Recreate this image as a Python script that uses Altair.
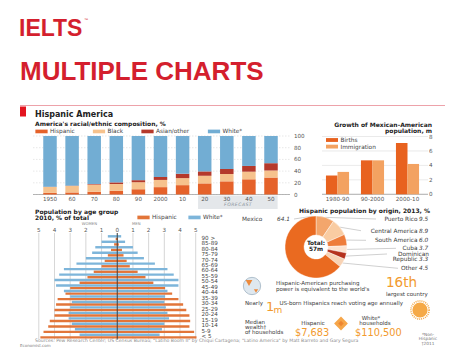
import altair as alt
import pandas as pd

# ============================ data ============================
YEARS = [1950, 1960, 1970, 1980, 1990, 2000, 2010, 2020, 2030, 2040, 2050]
YEAR_LABELS = ["1950", "60", "70", "80", "90", "2000", "10", "20", "30", "40", "50"]
COMP_GROUPS = ["Hispanic", "Black", "Asian/other", "White*"]
HISPANIC = [2.8, 3.5, 4.7, 6.4, 9.0, 12.6, 16.0, 19.0, 22.5, 26.0, 29.0]
BLACK = [10.0, 11.0, 12.2, 11.5, 12.0, 12.3, 12.0, 13.0, 12.5, 13.0, 12.0]
ASIAN_OTHER = [0.4, 0.6, 1.0, 2.8, 3.5, 5.0, 7.5, 7.5, 8.6, 9.8, 12.5]
WHITE = [86.8, 84.9, 82.1, 79.3, 75.5, 70.1, 64.5, 60.5, 56.4, 51.2, 46.5]
COMP_TICKS = [0, 20, 40, 60, 80, 100]
FORECAST_SPAN = [2020, 2050]

PERIODS = ["1980-90", "90-2000", "2000-10"]
GROWTH_KINDS = ["Births", "Immigration"]
BIRTHS = [2.6, 4.7, 7.1]
IMMIGRATION = [3.1, 4.7, 4.2]
GROWTH_TICKS = [0, 2, 4, 6, 8]

AGES = ["90 >", "85-89", "80-84", "75-79", "70-74", "65-69", "60-64", "55-59",
        "50-54", "45-49", "40-44", "35-39", "30-34", "25-29", "20-24", "15-19",
        "10-14", "5-9", "< 5"]
PYR_GROUPS = ["Hispanic", "White*"]
HISP_WOMEN = [0.1, 0.2, 0.4, 0.6, 0.8, 1.0, 1.5, 1.9, 2.4, 3.0, 3.3, 3.8, 3.9, 4.0, 4.0, 4.3, 4.4, 4.7, 4.9]
HISP_MEN = [0.05, 0.1, 0.3, 0.4, 0.6, 0.8, 1.3, 1.8, 2.3, 3.05, 3.5, 3.9, 4.2, 4.4, 4.6, 4.65, 4.6, 4.9, 5.05]
WHITE_WOMEN = [0.6, 1.0, 1.4, 1.6, 2.0, 2.6, 3.4, 3.7, 4.0, 3.9, 3.4, 3.0, 2.9, 3.0, 3.1, 3.1, 2.9, 2.7, 2.4]
WHITE_MEN = [0.25, 0.5, 1.0, 1.3, 1.7, 2.4, 3.2, 3.6, 3.9, 3.9, 3.2, 3.05, 3.0, 3.1, 3.2, 3.3, 3.0, 2.85, 2.7]
PYR_TICKS = [-5, -4, -3, -2, -1, 0, 1, 2, 3, 4, 5]

ORIGINS = ["Puerto Rico", "Central America", "South America", "Cuba",
           "Dominican Republic", "Other", "Mexico"]
ORIGIN_SHARES = [9.5, 8.9, 6.0, 3.7, 3.3, 4.5, 64.1]

# ============================ style / layout ============================
FONT = "DejaVu Sans"
HEAD_FONT = "Liberation Sans"
RED = "#d41f2e"
BIG_ORANGE = "#f29a2e"
TXT = "#3a3a3a"
W, H = 458, 339
ONE = pd.DataFrame({"k": [0]})


def P(v):
    """page pixel -> chart pixel (the page has an 8px margin)"""
    return v - 8


def label(s, x, y, size=5.6, color=TXT, weight="normal", align="left",
          style="normal", font=FONT, **kw):
    return alt.Chart(ONE).mark_text(
        text=s, fontSize=size, color=color, fontWeight=weight, align=align,
        fontStyle=style, font=font, baseline="middle", **kw
    ).encode(x=alt.value(P(x)), y=alt.value(P(y)))


def legend_h(x, y, pad):
    return alt.Legend(orient="none", legendX=P(x), legendY=P(y), direction="horizontal",
                      title=None, symbolType="M-1,-0.3H1V0.3H-1Z", symbolSize=150,
                      symbolStrokeWidth=0, labelFontSize=5.8, labelFont=FONT,
                      labelColor="#444", columnPadding=pad, labelOffset=2, padding=0)


layers = []

# ---------------- header ----------------
layers.append(label("IELTS", 19, 29, size=23, color=RED, weight="bold", font=HEAD_FONT))
layers.append(label("™", 84, 20, size=4, color=RED, font=HEAD_FONT))
layers.append(label("MULTIPLE CHARTS", 20, 72, size=26, color=RED, weight="bold", font=HEAD_FONT))
layers.append(alt.Chart(ONE).mark_rule(color="#e98a94", strokeWidth=0.8).encode(
    x=alt.value(P(20)), x2=alt.value(P(445)), y=alt.value(P(105.5))))
layers.append(alt.Chart(ONE).mark_rect(color="#e3141f").encode(
    x=alt.value(P(20)), x2=alt.value(P(26)), y=alt.value(P(106.5)), y2=alt.value(P(116.5))))
layers.append(label("Hispanic America", 35, 114.5, size=8, color="#222", weight="bold"))
layers.append(label("America's racial/ethnic composition, %", 35, 124, size=6, color="#222", weight="bold"))

# ---------------- stacked composition chart ----------------
rows = []
for gi, (g, vals) in enumerate(zip(COMP_GROUPS, [HISPANIC, BLACK, ASIAN_OTHER, WHITE])):
    for yr, v in zip(YEARS, vals):
        rows.append({"year": yr, "group": g, "value": v, "ord": gi})
comp = pd.DataFrame(rows)

cx = alt.Scale(domain=[1950, 2050], range=[P(45), P(276)], nice=False, zero=False)
cy = alt.Scale(domain=[0, 100], range=[P(194.5), P(136)], nice=False)
ccol = alt.Scale(domain=COMP_GROUPS, range=["#e5622a", "#f6c28d", "#b5392b", "#72add3"])

fc = pd.DataFrame({"start": [FORECAST_SPAN[0]], "end": [FORECAST_SPAN[1]]})
fc_band = alt.Chart(fc).transform_calculate(a="datum.start - 3", b="datum.end + 3").mark_rect(
    color="#e4e7ea").encode(x=alt.X("a:Q", scale=cx, axis=None), x2="b:Q",
                            y=alt.value(P(195.5)), y2=alt.value(P(209)))
fc_txt = alt.Chart(fc).transform_calculate(m="(datum.start + datum.end) / 2").mark_text(
    text="F\u200aO\u200aR\u200aE\u200aC\u200aA\u200aS\u200aT", fontSize=4.6, fontStyle="italic",
    font=FONT, color="#8b949c").encode(x=alt.X("m:Q", scale=cx, axis=None), y=alt.value(P(205)))
c_grid = alt.Chart(pd.DataFrame({"v": COMP_TICKS})).mark_rule(
    color="#d6d6d6", strokeWidth=0.6, strokeDash=[1.5, 1.5]).encode(
    y=alt.Y("v:Q", scale=cy, axis=None), x=alt.value(P(33)), x2=alt.value(P(290)))
c_base = alt.Chart(pd.DataFrame({"v": [0]})).mark_rule(color="#9a9a9a", strokeWidth=0.7).encode(
    y=alt.Y("v:Q", scale=cy, axis=None), x=alt.value(P(33)), x2=alt.value(P(290)))
c_bars = alt.Chart(comp).mark_bar(size=13.5).encode(
    x=alt.X("year:Q", scale=cx, axis=None),
    y=alt.Y("value:Q", scale=cy, axis=None, stack="zero"),
    color=alt.Color("group:N", scale=ccol, legend=legend_h(35, 124.6, 17.5)),
    order=alt.Order("ord:Q"))
c_xlab = alt.Chart(pd.DataFrame({"year": YEARS, "lab": YEAR_LABELS})).mark_text(
    fontSize=5.6, font=FONT, color="#555").encode(
    x=alt.X("year:Q", scale=cx, axis=None), y=alt.value(P(198.8)), text="lab:N")
c_ylab = alt.Chart(pd.DataFrame({"v": COMP_TICKS})).mark_text(
    align="left", fontSize=5.6, font=FONT, color="#555").encode(
    y=alt.Y("v:Q", scale=cy, axis=None), x=alt.value(P(294)), text="v:Q")
layers.append(alt.layer(fc_band, c_grid, c_base, c_bars, c_xlab, fc_txt, c_ylab))

# ---------------- Mexican-American growth chart ----------------
growth = pd.DataFrame(
    [{"period": p, "kind": GROWTH_KINDS[0], "value": v} for p, v in zip(PERIODS, BIRTHS)] +
    [{"period": p, "kind": GROWTH_KINDS[1], "value": v} for p, v in zip(PERIODS, IMMIGRATION)])
gx = alt.Scale(domain=PERIODS, range=[P(320), P(425)], paddingInner=0.34, paddingOuter=0.17)
gy = alt.Scale(domain=[0, 8], range=[P(194.3), P(136.5)], nice=False)
gcol = alt.Scale(domain=GROWTH_KINDS, range=["#e8621f", "#f3a261"])
g_grid = alt.Chart(pd.DataFrame({"v": GROWTH_TICKS})).mark_rule(
    color="#dcdcdc", strokeWidth=0.6).encode(
    y=alt.Y("v:Q", scale=gy, axis=None), x=alt.value(P(322)), x2=alt.value(P(428)))
g_base = alt.Chart(pd.DataFrame({"v": [0]})).mark_rule(color="#9a9a9a", strokeWidth=0.7).encode(
    y=alt.Y("v:Q", scale=gy, axis=None), x=alt.value(P(322)), x2=alt.value(P(428)))
g_bars = alt.Chart(growth).mark_bar().encode(
    x=alt.X("period:N", scale=gx, axis=None),
    xOffset=alt.XOffset("kind:N", scale=alt.Scale(domain=GROWTH_KINDS, paddingInner=0, paddingOuter=0)),
    y=alt.Y("value:Q", scale=gy, axis=None),
    color=alt.Color("kind:N", scale=gcol, legend=None))
g_xlab = alt.Chart(pd.DataFrame({"period": PERIODS})).mark_text(
    fontSize=5.6, font=FONT, color="#555").encode(
    x=alt.X("period:N", scale=gx, axis=None), y=alt.value(P(198.8)), text="period:N")
g_ylab = alt.Chart(pd.DataFrame({"v": GROWTH_TICKS})).mark_text(
    align="left", fontSize=5.6, font=FONT, color="#555").encode(
    y=alt.Y("v:Q", scale=gy, axis=None), x=alt.value(P(429)), text="v:Q")
layers.append(alt.layer(g_grid, g_base, g_bars, g_xlab, g_ylab))

gl = pd.DataFrame({"kind": GROWTH_KINDS})
gl_y = alt.Y("kind:N", scale=alt.Scale(type="point", domain=GROWTH_KINDS,
                                       range=[P(140), P(146.6)], padding=0), axis=None)
gl_sym = alt.Chart(gl).mark_point(shape="M-1,-0.32H1V0.32H-1Z", filled=True, size=144, opacity=1).encode(
    x=alt.value(P(332)), y=gl_y, color=alt.Color("kind:N", scale=gcol, legend=None))
gl_txt = alt.Chart(gl).mark_text(align="left", fontSize=5.8, font=FONT, color="#444").encode(
    x=alt.value(P(340.5)), y=gl_y, text="kind:N")
layers.append(alt.layer(gl_sym, gl_txt))
layers.append(label("Growth of Mexican-American", 432, 124.5, size=6, color="#222", weight="bold", align="right"))
layers.append(label("population, m", 432, 130.8, size=6, color="#222", weight="bold", align="right"))

# ---------------- population pyramid ----------------
prow = []
for i, a in enumerate(AGES):
    prow.append({"age": a, "group": "Hispanic", "value": -HISP_WOMEN[i]})
    prow.append({"age": a, "group": "Hispanic", "value": HISP_MEN[i]})
    prow.append({"age": a, "group": "White*", "value": -WHITE_WOMEN[i]})
    prow.append({"age": a, "group": "White*", "value": WHITE_MEN[i]})
pyr = pd.DataFrame(prow)
px_ = alt.Scale(domain=[-5, 5], range=[P(38.8), P(195.7)], nice=False)
py_ = alt.Scale(domain=AGES, range=[P(234.9), P(338.8)], paddingInner=0, paddingOuter=0)
pcol = alt.Scale(domain=PYR_GROUPS, range=["#e27539", "#7db5da"])
pt = pd.DataFrame({"v": PYR_TICKS, "lab": [str(abs(t)) for t in PYR_TICKS]})
p_grid = alt.Chart(pt).mark_rule(color="#c4c4c4", strokeWidth=0.7).encode(
    x=alt.X("v:Q", scale=px_, axis=None), y=alt.value(P(233)), y2=alt.value(P(339.5)))
p_bars = alt.Chart(pyr).mark_bar().encode(
    x=alt.X("value:Q", scale=px_, axis=None, stack=None),
    y=alt.Y("age:N", scale=py_, axis=None),
    yOffset=alt.YOffset("group:N", scale=alt.Scale(domain=["White*", "Hispanic"],
                                                   paddingInner=0.08, paddingOuter=0.08)),
    color=alt.Color("group:N", scale=pcol, legend=legend_h(137, 210.6, 11)))
p_zero = alt.Chart(pd.DataFrame({"v": [0]})).mark_rule(color="#333", strokeWidth=0.9).encode(
    x=alt.X("v:Q", scale=px_, axis=None), y=alt.value(P(233)), y2=alt.value(P(339.5)))
p_xlab = alt.Chart(pt).mark_text(fontSize=5.6, font=FONT, color="#555").encode(
    x=alt.X("v:Q", scale=px_, axis=None), y=alt.value(P(229.8)), text="lab:N")
p_ages = alt.Chart(pd.DataFrame({"age": AGES})).mark_text(
    align="left", fontSize=5.6, font=FONT, color="#444").encode(
    y=alt.Y("age:N", scale=py_, axis=None), x=alt.value(P(201.5)), text="age:N")
layers.append(alt.layer(p_grid, p_bars, p_zero, p_xlab, p_ages))
layers.append(label("Population by age group", 35, 211.6, size=6, color="#222", weight="bold"))
layers.append(label("2010, % of total", 35, 217.8, size=6, color="#222", weight="bold"))
layers.append(label("WOMEN", 97, 223.8, size=3.8, color="#888", align="right"))
layers.append(label("MEN", 132, 223.8, size=3.8, color="#888"))

# ---------------- donut: origin ----------------
CX, CY, R_OUT, R_IN = 316, 247, 31, 12
don = pd.DataFrame({"origin": ORIGINS, "share": ORIGIN_SHARES, "ord": list(range(len(ORIGINS)))})
dcol = alt.Scale(domain=ORIGINS, range=["#f3a66c", "#f9cca2", "#ee7d3b", "#fde3cf",
                                        "#b5321e", "#f8d3b5", "#ea6a20"])
# where each leader line meets its label (layout), and where along its slice it starts
LEADER_END = {"Puerto Rico": (376, 219), "Central America": (361, 230.7),
              "South America": (366, 240.3), "Cuba": (396, 248.3),
              "Dominican Republic": (387, 254), "Other": (398, 268.3), "Mexico": (294, 219)}
LEADER_FRAC = {"Mexico": 0.03}
lead = don.copy()
lead["ax"] = [P(LEADER_END[o][0]) for o in ORIGINS]
lead["ay"] = [P(LEADER_END[o][1]) for o in ORIGINS]
lead["f"] = [LEADER_FRAC.get(o, 0.5) for o in ORIGINS]
d_lead = alt.Chart(lead).transform_window(
    cum="sum(share)", sort=[alt.SortField("ord")]).transform_calculate(
    ang="(datum.cum - datum.share * datum.f) / 100 * 2 * PI",
    px=f"{P(CX)} + {R_OUT} * sin(datum.ang)",
    py=f"{P(CY)} - {R_OUT} * cos(datum.ang)").mark_rule(color="#a0a0a0", strokeWidth=0.5).encode(
    x=alt.X("px:Q", scale=None), y=alt.Y("py:Q", scale=None), x2="ax:Q", y2="ay:Q")
d_arc = alt.Chart(don).mark_arc(innerRadius=R_IN, outerRadius=R_OUT, stroke="white",
                                strokeWidth=0.4).encode(
    theta=alt.Theta("share:Q", stack=True),
    color=alt.Color("origin:N", scale=dcol, legend=None),
    order=alt.Order("ord:Q"),
    x=alt.value(P(CX)), y=alt.value(P(CY)))
layers.append(d_lead)
layers.append(d_arc)
layers.append(label("Total:", CX, 243.3, size=5.8, color="#222", weight="bold", align="center"))
layers.append(label("57m", CX, 249.3, size=5.8, color="#222", weight="bold", align="center"))
layers.append(label("Hispanic population by origin, 2013, %", 430, 211, size=6, color="#222",
                    weight="bold", align="right"))
NAME_ROWS = {"Puerto Rico": 219, "Central America": 230.7, "South America": 240.3,
             "Cuba": 248.3, "Other": 268.3}
for o, s in zip(ORIGINS, ORIGIN_SHARES):
    if o in NAME_ROWS:
        layers.append(label(o, 417.5, NAME_ROWS[o], size=5.8, align="right"))
        layers.append(label(f"{s:.1f}", 419, NAME_ROWS[o], size=5.8, style="italic"))
    elif o == "Dominican Republic":
        layers.append(label("Dominican", 429, 254, size=5.8, align="right"))
        layers.append(label("Republic", 417.5, 259.2, size=5.8, align="right"))
        layers.append(label(f"{s:.1f}", 419, 259.2, size=5.8, style="italic"))
    else:
        layers.append(label(o, 242, 219, size=5.8))
        layers.append(label(f"{s:.1f}", 277, 219, size=5.8, style="italic"))

# ---------------- fact annotations ----------------
layers.append(alt.Chart(ONE).mark_point(shape="circle", filled=True, size=300, fill="#dfe8ef",
                                        stroke="#9fb2c2", strokeWidth=0.8, opacity=1).encode(
    x=alt.value(P(252)), y=alt.value(P(286))))
layers.append(alt.Chart(ONE).mark_point(shape="triangle-down", filled=True, size=45,
                                        color="#ec8a3c", opacity=1).encode(
    x=alt.value(P(249)), y=alt.value(P(283))))
layers.append(alt.Chart(ONE).mark_point(shape="triangle-down", filled=True, size=18,
                                        color="#ec8a3c", opacity=1).encode(
    x=alt.value(P(256)), y=alt.value(P(291))))
layers.append(label("Hispanic-American purchasing", 276, 283.3, size=5.5))
layers.append(label("power is equivalent to the world's", 276, 288.5, size=5.5))
layers.append(label("16th", 386, 283, size=13.5, color=BIG_ORANGE))
layers.append(label("largest country", 386, 294.3, size=5.5))
layers.append(label("Nearly", 245, 302.7, size=5.5))
layers.append(label("1", 266, 306.5, size=13, color=BIG_ORANGE))
layers.append(label("m", 273.5, 310.4, size=9, color=BIG_ORANGE))
layers.append(label("US-born Hispanics reach voting age annually", 279.5, 302.5, size=5.5))
layers.append(alt.Chart(ONE).mark_point(shape="circle", filled=False, size=330, color="#f4a948",
                                        strokeWidth=1.6, strokeDash=[1, 1], opacity=1).encode(
    x=alt.value(P(420)), y=alt.value(P(310))))
layers.append(alt.Chart(ONE).mark_point(shape="circle", filled=True, size=230, color="#f5a947",
                                        opacity=1).encode(
    x=alt.value(P(420)), y=alt.value(P(310))))
layers.append(label("Median", 245, 322.3, size=5.5))
layers.append(label("wealth†", 245, 327.2, size=5.5))
layers.append(label("of households", 245, 332, size=5.5))
layers.append(label("Hispanic", 313, 322.8, size=5.5, align="center"))
layers.append(label("$7,683", 295, 333, size=9.8, color=BIG_ORANGE))
layers.append(alt.Chart(ONE).mark_point(shape="diamond", filled=True, size=190, color="#f6a64a",
                                        opacity=1).encode(x=alt.value(P(341)), y=alt.value(P(323.5))))
layers.append(alt.Chart(ONE).mark_point(shape="diamond", filled=True, size=30, color="#ee8630",
                                        opacity=1).encode(x=alt.value(P(341)), y=alt.value(P(323.5))))
layers.append(label("White*", 371, 317.6, size=5.5, align="center"))
layers.append(label("households", 375, 322.6, size=5.5, align="center"))
layers.append(label("$110,500", 355, 333, size=9.8, color=BIG_ORANGE))
layers.append(label("*Non-", 428, 334.5, size=4.3, color="#777", align="center"))
layers.append(label("Hispanic", 428, 339, size=4.3, color="#777", align="center"))
layers.append(label("†2011", 428, 343.5, size=4.3, color="#777", align="center"))

# ---------------- footer ----------------
layers.append(label('Sources: Pew Research Center; US Census Bureau; "Latino Boom II" by Chiqui Cartagena; '
                    '"Latino America" by Matt Barreto and Gary Segura', 35, 341.1, size=4.6, color="#8a8a8a"))
layers.append(label("Economist.com", 20, 345.5, size=4.0, color="#7a7a7a"))

chart = alt.layer(*layers).resolve_scale(
    x="independent", y="independent", color="independent",
    xOffset="independent", yOffset="independent", theta="independent"
).properties(width=W, height=H, padding=0, autosize="none", background="white"
).configure_view(stroke=None)

chart.save("out.html", embed_options={"renderer": "svg", "actions": False})
